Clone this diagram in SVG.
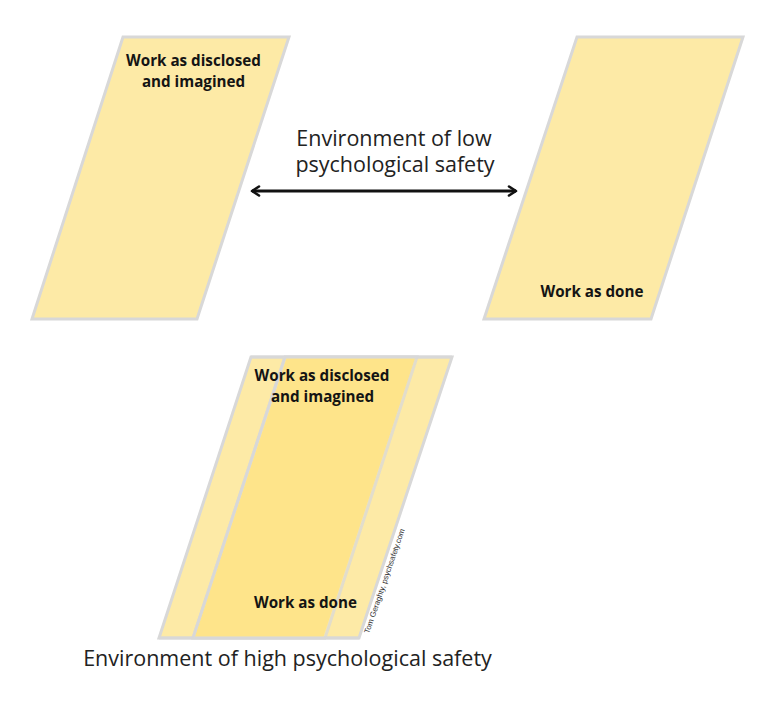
<svg xmlns="http://www.w3.org/2000/svg" width="768" height="707" viewBox="0 0 768 707">
  <defs>
    <style>
      .shape { fill: #fdeaa6; stroke: #d8d8d8; stroke-width: 3; stroke-linejoin: miter; }
      .overlap { fill: #fee48a; stroke: none; }
      .edge { fill: none; stroke: #d8d8d8; stroke-width: 3; stroke-opacity: 0.75; }
      .label { font-family: "Open Sans", "Liberation Sans", sans-serif; font-weight: 700; font-size: 15.2px; fill: #141414; text-anchor: middle; }
      .caption { font-family: "Open Sans", "Liberation Sans", sans-serif; font-size: 21.5px; fill: #222222; text-anchor: middle; }
      .credit { font-family: "Liberation Sans", Arial, sans-serif; font-size: 7.8px; fill: #333333; }
      .conn { fill: none; stroke: #111111; stroke-width: 3; }
    </style>
    <marker id="arrowEnd" viewBox="0 0 12 12" refX="10" refY="6" markerWidth="12" markerHeight="12" markerUnits="userSpaceOnUse" orient="auto">
      <path d="M3,1.5 L10,6 L3,10.5" fill="none" stroke="#111111" stroke-width="2.6" stroke-linecap="round" stroke-linejoin="round"/>
    </marker>
    <marker id="arrowStart" viewBox="0 0 12 12" refX="2" refY="6" markerWidth="12" markerHeight="12" markerUnits="userSpaceOnUse" orient="auto">
      <path d="M9,1.5 L2,6 L9,10.5" fill="none" stroke="#111111" stroke-width="2.6" stroke-linecap="round" stroke-linejoin="round"/>
    </marker>
  </defs>
  <rect width="768" height="707" fill="#ffffff"/>

  <g id="work-imagined-low">
    <polygon class="shape" points="123,37 289,37 197,319 32,319"/>
    <text class="label" x="193.5" y="66">Work as disclosed</text>
    <text class="label" x="193.5" y="87">and imagined</text>
  </g>

  <g id="work-done-low">
    <polygon class="shape" points="577,37 743,37 651,319 484,319"/>
    <text class="label" x="592" y="297">Work as done</text>
  </g>

  <g id="low-safety-label">
    <text class="caption" x="394" y="146">Environment of low</text>
    <text class="caption" x="395" y="172">psychological safety</text>
  </g>

  <g id="connectors">
    <line class="conn" x1="252" y1="191" x2="516" y2="191" marker-start="url(#arrowStart)" marker-end="url(#arrowEnd)"/>
  </g>

  <g id="high-safety-overlap">
    <polygon class="shape" points="251,357 417,357 325,638 159,638"/>
    <polygon class="shape" points="285,357 452,357 359,638 193,638"/>
    <polygon class="overlap" points="286.5,358.5 415,358.5 323.5,636.5 195,636.5"/>
    <polyline class="edge" points="285,357 193,638"/>
    <polyline class="edge" points="417,357 325,638"/>
    <line class="edge" x1="251" y1="357" x2="452" y2="357"/>
    <line class="edge" x1="159" y1="638" x2="359" y2="638"/>
    <text class="label" x="322" y="381">Work as disclosed</text>
    <text class="label" x="322.5" y="402">and imagined</text>
    <text class="label" x="305.5" y="608">Work as done</text>
    <text class="credit" x="0" y="0" transform="translate(369,634) rotate(-71)">Tom Geraghty, psychsafety.com</text>
  </g>

  <g id="high-safety-label">
    <text class="caption" x="287.5" y="666">Environment of high psychological safety</text>
  </g>
</svg>
